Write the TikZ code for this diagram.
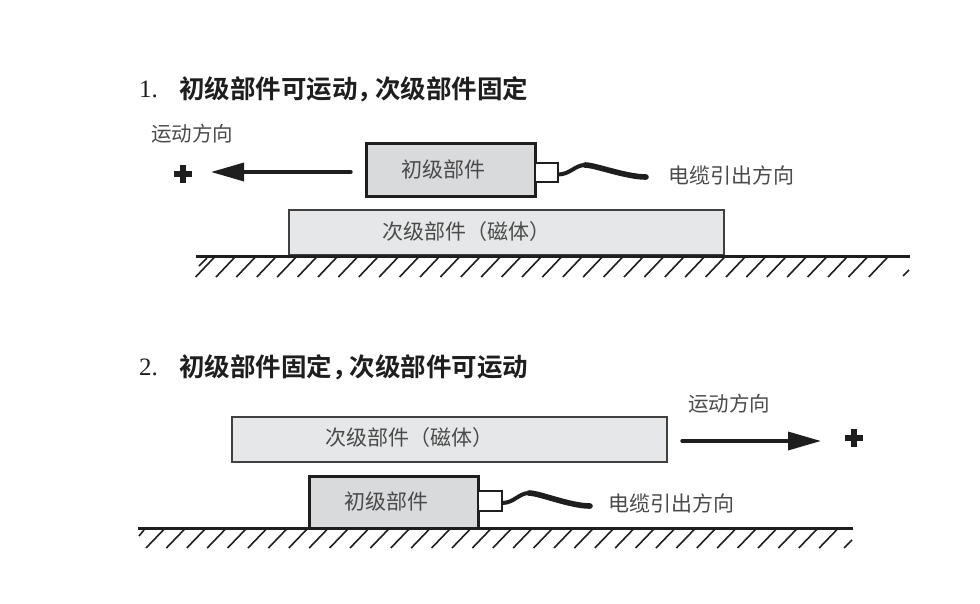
\documentclass[tikz,border=0pt]{standalone}
\usepackage{fontspec}
\setmainfont{Liberation Serif}
\newfontfamily\cjk{Noto Sans CJK SC}
\newfontfamily\cjkb{Noto Sans CJK SC Bold}
\usetikzlibrary{arrows.meta}
\definecolor{txt}{HTML}{4A4A4A}
\definecolor{ink}{HTML}{1E1E1E}
\definecolor{primfill}{HTML}{D9DADC}
\definecolor{secfill}{HTML}{E6E7E8}
\tikzset{
  x=1pt,y=-1pt,
  box/.style={inner sep=0pt,outer sep=0pt,anchor=north west},
  primary/.style={box,draw=ink,line width=3pt,fill=primfill},
  secondary/.style={box,draw=ink!85,line width=1.6pt,fill=secfill},
  plug/.style={box,draw=ink,line width=1.5pt,fill=white},
  lbl/.style={inner sep=0pt,text=txt,font=\cjk\fontsize{21}{21}\selectfont},
  mlbl/.style={lbl,font=\cjk\fontsize{20.5}{21}\selectfont},
  ttl/.style={inner sep=0pt,anchor=west,text=ink,font=\cjkb\fontsize{25.5}{26}\selectfont},
  num/.style={inner sep=0pt,anchor=west,text=ink,font=\fontsize{25}{25}\selectfont},
  cablea/.style={line width=4pt,ink},
  cableb/.style={line width=5.6pt,ink,line cap=round},
  ground/.style={line width=3pt,ink},
  hatch/.style={line width=1.6pt,ink},
  motion/.style={line width=3.4pt,ink,line cap=round,-{Triangle[length=33pt,width=18pt]}},
  plus/.style={line width=5.4pt,ink}
}
\begin{document}
\begin{tikzpicture}
\useasboundingbox (0,0) rectangle (980,603);
% ---------- part 1
\node[num] (n1) at (139,89) {1.};
\node[ttl] (t1) at (179,89) {初级部件可运动，\hspace{-8pt}次级部件固定};
\node[mlbl] (m1) at (192,134) {运动方向};
\node[secondary,minimum width=435pt,minimum height=45pt] (s1) at (289,210) {};
\node[primary,minimum width=169pt,minimum height=53pt] (p1) at (366,143) {};
\node[plug,minimum width=23pt,minimum height=19pt] (c1) at (535,163) {};
\node[lbl] at (443,169) {初级部件};
\node[lbl] at (466,232) {次级部件（磁体）};
\node[lbl] (e1) at (731,175) {电缆引出方向};
\coordinate (k1) at (585,165);
\coordinate (ke1) at (646,177);
\draw[cablea] (c1.east) ++(0,2) .. controls +(12,0) and +(-10,0) .. (k1);
\draw[cableb] (k1) .. controls +(10,0) and +(-20,0) .. (ke1);
\coordinate (a1s) at (351,172);
\coordinate (a1e) at (211,172);
\draw[motion] (a1s) -- (a1e);
\coordinate (pl1) at (183,174);
\draw[plus] ([xshift=-9pt]pl1) -- ([xshift=9pt]pl1) ([yshift=-9pt]pl1) -- ([yshift=9pt]pl1);
\coordinate (g1a) at (196,256);
\coordinate (g1b) at (910,256);
\draw[ground] (g1a) -- (g1b);
\foreach \i in {0,...,33}{
  \draw[hatch] ({214.6+20.4*\i},257) -- ({195.6+20.4*\i},277);
}
\draw[hatch] (207,258) -- (199,266);
\draw[hatch] (909,270) -- (903,276);
% ---------- part 2
\node[num] (n2) at (139,367) {2.};
\node[ttl] (t2) at (179,367) {初级部件固定，\hspace{-8pt}次级部件可运动};
\node[mlbl] (m2) at (729,404) {运动方向};
\node[secondary,minimum width=435pt,minimum height=45pt] (s2) at (232,417) {};
\node[primary,minimum width=169pt,minimum height=52pt] (p2) at (309,476) {};
\node[plug,minimum width=24pt,minimum height=20pt] (c2) at (478,491) {};
\node[lbl] at (386,501) {初级部件};
\node[lbl] at (409,438) {次级部件（磁体）};
\node[lbl] (e2) at (671,503) {电缆引出方向};
\coordinate (k2) at (529,493);
\coordinate (ke2) at (590,506);
\draw[cablea] (c2.east) ++(0,2) .. controls +(12,0) and +(-10,0) .. (k2);
\draw[cableb] (k2) .. controls +(10,0) and +(-20,0) .. (ke2);
\coordinate (a2s) at (682,441);
\coordinate (a2e) at (821,441);
\draw[motion] (a2s) -- (a2e);
\coordinate (pl2) at (854,438);
\draw[plus] ([xshift=-9pt]pl2) -- ([xshift=9pt]pl2) ([yshift=-9pt]pl2) -- ([yshift=9pt]pl2);
\coordinate (g2a) at (138,528);
\coordinate (g2b) at (853,528);
\draw[ground] (g2a) -- (g2b);
\foreach \i in {0,...,33}{
  \draw[hatch] ({164.3+20.4*\i},529) -- ({146+20.4*\i},548);
}
\draw[hatch] (144,530) -- (139,536);
\draw[hatch] (852,540) -- (844,548);
\end{tikzpicture}
\end{document}
